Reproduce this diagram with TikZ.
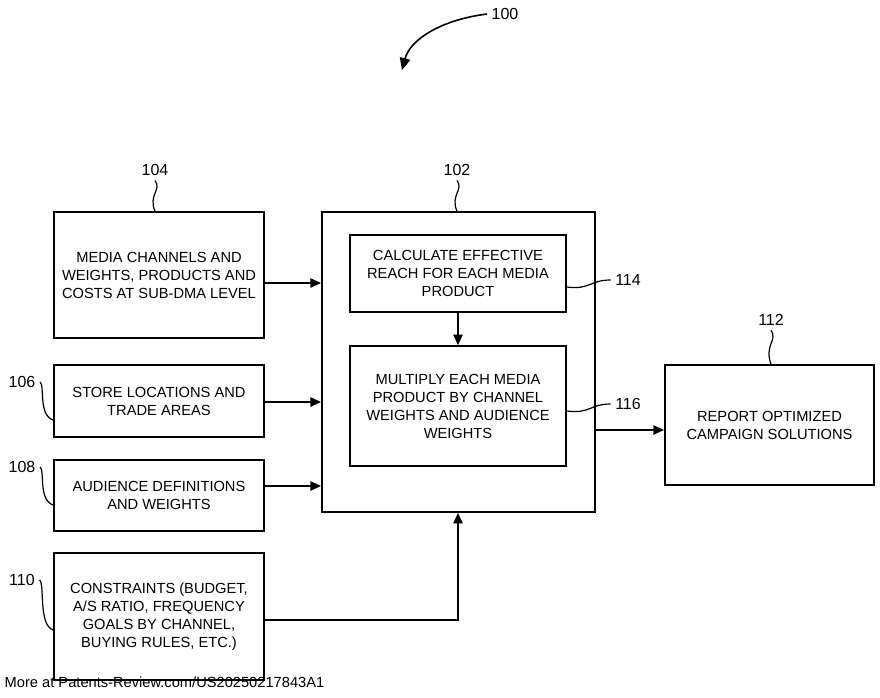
\documentclass[tikz,border=0pt]{standalone}
\usepackage{fontspec}
\setmainfont{Liberation Sans}
\usetikzlibrary{arrows.meta,positioning}
\tikzset{
  box/.style = {draw, line width=1.2pt, align=center, font=\fontsize{11}{13.5}\selectfont, inner sep=0pt},
  line/.style = {draw, -{Triangle[length=8pt,width=7pt]}, line width=1.2pt},
  tag/.style = {font=\fontsize{12}{14}\selectfont},
  lead/.style = {draw, line width=0.9pt}
}
\begin{document}
\begin{tikzpicture}[x=0.75pt,y=-0.75pt]
	\useasboundingbox (0,0) rectangle (880,697);
	% -------------- inputs --------------
	\node[box, minimum width=157.5pt, minimum height=94.5pt] (media) at (159,275)
		{MEDIA CHANNELS AND\\WEIGHTS, PRODUCTS AND\\COSTS AT SUB-DMA LEVEL};
	\node[box, minimum width=157.5pt, minimum height=54pt] (store) at (159,401)
		{STORE LOCATIONS AND\\TRADE AREAS};
	\node[box, minimum width=157.5pt, minimum height=53pt] (aud) at (159,495.5)
		{AUDIENCE DEFINITIONS\\AND WEIGHTS};
	\node[box, minimum width=157.5pt, minimum height=95pt] (cons) at (159,616.5)
		{CONSTRAINTS (BUDGET,\\A/S RATIO, FREQUENCY\\GOALS BY CHANNEL,\\BUYING RULES, ETC.)};
	% -------------- engine --------------
	\node[box, minimum width=205pt, minimum height=225pt] (eng) at (458.5,362) {};
	\node[box, minimum width=162pt, minimum height=58pt] (reach) at (458,273.5)
		{CALCULATE EFFECTIVE\\REACH FOR EACH MEDIA\\PRODUCT};
	\node[box, minimum width=162pt, minimum height=90pt] (mult) at (458,406)
		{MULTIPLY EACH MEDIA\\PRODUCT BY CHANNEL\\WEIGHTS AND AUDIENCE\\WEIGHTS};
	% -------------- output --------------
	\node[box, minimum width=157pt, minimum height=90pt] (rep) at (769.5,425)
		{REPORT OPTIMIZED\\CAMPAIGN SOLUTIONS};
	% -------------- connectors --------------
	\draw[line] (media.east |- 0,283) -- (eng.west |- 0,283);
	\draw[line] (store.east |- 0,402) -- (eng.west |- 0,402);
	\draw[line] (aud.east |- 0,486) -- (eng.west |- 0,486);
	\draw[line] (cons.east |- 0,620) -| (eng.south -| reach.south);
	\draw[line] (reach) -- (mult);
	\draw[line] (eng.east |- 0,430) -- (rep.west |- 0,430);
	% -------------- reference numerals --------------
	\node[tag] (n100) at (505,14) {100};
	\draw[line width=1.2pt, -{Triangle[length=9pt,width=8pt]}] (n100.west) .. controls (440,20) and (410,40) .. (402,70);
	\node[tag] (n104) at (155,170) {104};
	\draw[lead] (n104.south) .. controls (162,190) and (148,195) .. (media.north -| n104);
	\node[tag] (n102) at (457,170) {102};
	\draw[lead] (n102.south) .. controls (464,190) and (450,195) .. (eng.north -| n102);
	\node[tag] (n112) at (771,320) {112};
	\draw[lead] (n112.south) .. controls (778,340) and (764,345) .. (rep.north -| n112);
	\node[tag] (n114) at (628,280) {114};
	\draw[lead] (reach.east |- 0,287) .. controls (590,290) and (590,280) .. (n114.west);
	\node[tag] (n116) at (628,404) {116};
	\draw[lead] (mult.east |- 0,411) .. controls (590,414) and (590,404) .. (n116.west);
	\node[tag] (n106) at (22,382) {106};
	\draw[lead] (n106.east) .. controls (45,385) and (38,415) .. (store.west |- 0,420);
	\node[tag] (n108) at (22,467) {108};
	\draw[lead] (n108.east) .. controls (45,470) and (38,500) .. (aud.west |- 0,505);
	\node[tag] (n110) at (22,580) {110};
	\draw[lead] (n110.east) .. controls (45,583) and (38,625) .. (cons.west |- 0,630);
	% -------------- footer --------------
	\node[anchor=west, font=\fontsize{11}{13}\selectfont] (foot) at (0,682) {More at Patents-Review.com/US20250217843A1};
\end{tikzpicture}
\end{document}
